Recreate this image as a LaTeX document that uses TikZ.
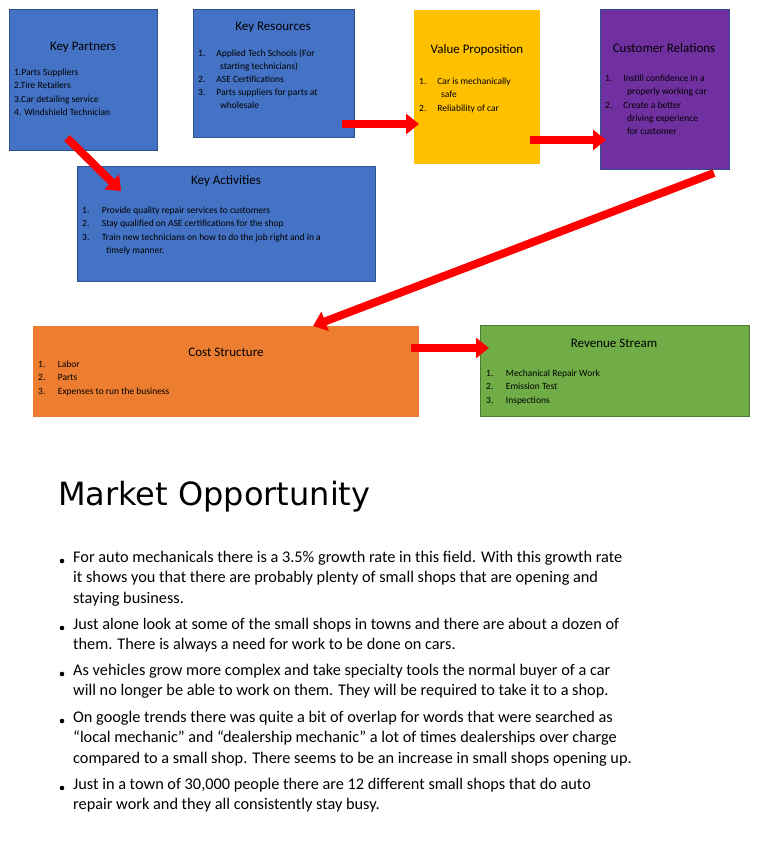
\documentclass[tikz,border=0pt]{standalone}
\usepackage{fontspec}
\setmainfont{Carlito}
\newfontfamily\dejavu{DejaVu Sans}
\usetikzlibrary{arrows.meta}
\definecolor{kblue}{HTML}{4472C4}
\definecolor{kborder}{HTML}{2F528F}
\definecolor{kyellow}{HTML}{FFC000}
\definecolor{kpurple}{HTML}{7030A0}
\definecolor{korange}{HTML}{ED7D31}
\definecolor{kgreen}{HTML}{70AD47}
\definecolor{kred}{HTML}{FF0000}
\begin{document}
\begin{tikzpicture}[x=1pt,y=-1pt,
  box/.style={draw=kborder,line width=0.6pt,anchor=north west,inner sep=0pt},
  ttl/.style={font=\fontsize{13}{15}\selectfont,anchor=center},
  itm/.style={font=\fontsize{9.5}{13.2}\selectfont,anchor=north west,align=left,inner sep=0pt},
  fat/.style={draw=kred,line width=8pt,-{Triangle[width=20pt,length=13pt]}},
  txt/.style={font=\fontsize{16.3}{20.3}\selectfont,anchor=north west,align=left,inner sep=0pt}]
\useasboundingbox (0,0) rectangle (768,866);
% boxes
\node[box,fill=kblue,minimum width=148,minimum height=141] (kp) at (9,9) {};
\node[box,fill=kblue,minimum width=161,minimum height=128] (kr) at (193,9) {};
\node[box,draw=kyellow,fill=kyellow,minimum width=125,minimum height=153] (vp) at (414,10) {};
\node[box,fill=kpurple,minimum width=129,minimum height=160] (cr) at (600,9) {};
\node[box,fill=kblue,minimum width=298,minimum height=115] (ka) at (77,166) {};
\node[box,draw=korange,fill=korange,minimum width=385,minimum height=90] (cs) at (33,326) {};
\node[box,fill=kgreen,draw=kgreen!70!black,minimum width=269,minimum height=91] (rs) at (480,325) {};
% titles
\node[ttl] (kpt) at (83,47) {Key Partners};
\node[ttl] (krt) at (273,27) {Key Resources};
\node[ttl] (vpt) at (477,50) {Value Proposition};
\node[ttl] (crt) at (664,48) {Customer Relations};
\node[ttl] (kat) at (226,181) {Key Activities};
\node[ttl] (cst) at (226,352) {Cost Structure};
\node[ttl] (rst) at (614,343) {Revenue Stream};
% items
\node[itm] (kpi) at (14,69) {1.Parts Suppliers\\2.Tire Retailers\\3.Car detailing service\\4. Windshield Technician};
\node[itm] (kri) at (198,49) {1.\hspace{11pt}Applied Tech Schools (For\\\hspace{22pt}starting technicians)\\2.\hspace{11pt}ASE Certifications\\3.\hspace{11pt}Parts suppliers for parts at\\\hspace{22pt}wholesale};
\node[itm] (vpi) at (419,78) {1.\hspace{11pt}Car is mechanically\\\hspace{22pt}safe\\2.\hspace{11pt}Reliability of car};
\node[itm] (cri) at (605,75) {1.\hspace{11pt}Instill confidence in a\\\hspace{22pt}properly working car\\2.\hspace{11pt}Create a better\\\hspace{22pt}driving experience\\\hspace{22pt}for customer};
\node[itm] (kai) at (82,207) {1.\hspace{12.5pt}Provide quality repair services to customers\\2.\hspace{12.5pt}Stay qualified on ASE certifications for the shop\\3.\hspace{12.5pt}Train new technicians on how to do the job right and in a\\\hspace{24pt}timely manner.};
\node[itm] (csi) at (38,361) {1.\hspace{12.5pt}Labor\\2.\hspace{12.5pt}Parts\\3.\hspace{12.5pt}Expenses to run the business};
\node[itm] (rsi) at (486,370) {1.\hspace{12.5pt}Mechanical Repair Work\\2.\hspace{12.5pt}Emission Test\\3.\hspace{12.5pt}Inspections};
% arrows
\coordinate (a1) at (67,138); \coordinate (b1) at (121,191);
\coordinate (a2) at (342,124); \coordinate (b2) at (419,124);
\coordinate (a3) at (530,140); \coordinate (b3) at (606,140);
\coordinate (a4) at (714,173); \coordinate (b4) at (313,326);
\coordinate (a5) at (411,348); \coordinate (b5) at (489,348);
\draw[fat] (a1) -- (b1);
\draw[fat] (a2) -- (b2);
\draw[fat] (a3) -- (b3);
\draw[fat] (a4) -- (b4);
\draw[fat] (a5) -- (b5);
% market
\node[font=\dejavu\fontsize{32}{36}\selectfont,anchor=west,inner sep=0pt] (mt) at (58,497) {Market Opportunity};
\node[txt] (t1) at (73,551) {For auto mechanicals there is a 3.5\% growth rate in this field. With this growth rate\\it shows you that there are probably plenty of small shops that are opening and\\staying business.};
\node[txt] (t2) at (73,618) {Just alone look at some of the small shops in towns and there are about a dozen of\\them. There is always a need for work to be done on cars.};
\node[txt] (t3) at (73,664) {As vehicles grow more complex and take specialty tools the normal buyer of a car\\will no longer be able to work on them. They will be required to take it to a shop.};
\node[txt] (t4) at (73,711) {On google trends there was quite a bit of overlap for words that were searched as\\“local mechanic” and “dealership mechanic” a lot of times dealerships over charge\\compared to a small shop. There seems to be an increase in small shops opening up.};
\node[txt] (t5) at (73,778) {Just in a town of 30,000 people there are 12 different small shops that do auto\\repair work and they all consistently stay busy.};
\foreach \n in {t1,t2,t3,t4,t5} \fill ([xshift=-11pt,yshift=-10pt]\n.north west) circle (2.3pt);
\end{tikzpicture}
\end{document}
